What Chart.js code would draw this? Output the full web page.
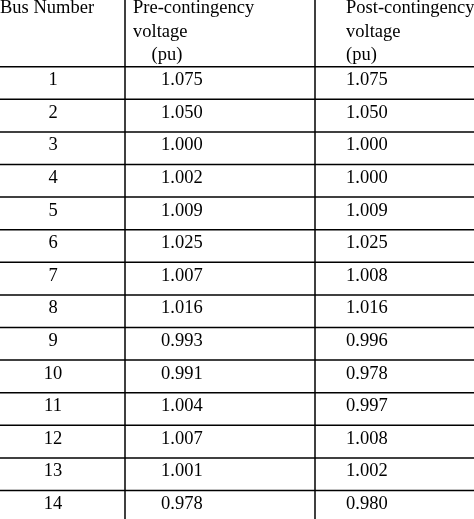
<!DOCTYPE html>
<html><head><meta charset="utf-8">
<script src="https://cdn.jsdelivr.net/npm/chart.js@4"></script>
<style>html,body{margin:0;padding:0;background:#fff}#wrap{width:474px;height:519px}</style>
</head><body><div id="wrap"><canvas id="c"></canvas></div>
<script>
const busNumbers = [1,2,3,4,5,6,7,8,9,10,11,12,13,14];
const preVoltage = ["1.075","1.050","1.000","1.002","1.009","1.025","1.007","1.016","0.993","0.991","1.004","1.007","1.001","0.978"];
const postVoltage = ["1.075","1.050","1.000","1.000","1.009","1.025","1.008","1.016","0.996","0.978","0.997","1.008","1.002","0.980"];
const headerBus = ["Bus Number"];
const headerPre = ["Pre-contingency","voltage","    (pu)"];
const headerPost = ["Post-contingency","voltage","(pu)"];

const tablePlugin = {
  id:'table',
  afterDraw(chart){
    const {ctx, scales:{x,y}} = chart;
    ctx.save();
    ctx.strokeStyle='#000'; ctx.lineWidth=1.5;
    const top=y.getPixelForValue(-1.6), bot=y.getPixelForValue(14.5);
    [125,315].forEach(v=>{const px=x.getPixelForValue(v);ctx.beginPath();ctx.moveTo(px,top);ctx.lineTo(px,bot);ctx.stroke();});
    for(let i=0;i<busNumbers.length;i++){
      const py=y.getPixelForValue(busNumbers[i]-0.5);
      ctx.beginPath();ctx.moveTo(x.getPixelForValue(0),py);ctx.lineTo(x.getPixelForValue(474),py);ctx.stroke();
    }
    ctx.fillStyle='#000';
    ctx.font='18.5px "Liberation Serif", "Times New Roman", serif';
    ctx.textBaseline='middle';
    ctx.textAlign='left';
    ctx.fillText(headerBus[0], x.getPixelForValue(0), y.getPixelForValue(-1.3));
    headerPre.forEach((t,i)=>ctx.fillText(t, x.getPixelForValue(133), y.getPixelForValue(-1.3+i*0.73)));
    headerPost.forEach((t,i)=>ctx.fillText(t, x.getPixelForValue(346), y.getPixelForValue(-1.3+i*0.73)));
    busNumbers.forEach((b,i)=>{
      const py=y.getPixelForValue(b-0.08);
      ctx.textAlign='center';
      ctx.fillText(String(b), x.getPixelForValue(53), py);
      ctx.textAlign='left';
      ctx.fillText(preVoltage[i], x.getPixelForValue(161), py);
      ctx.fillText(postVoltage[i], x.getPixelForValue(346), py);
    });
    ctx.restore();
  }
};

new Chart(document.getElementById('c'),{
  type:'scatter',
  data:{datasets:[{data:busNumbers.map(b=>({x:0,y:b})),pointRadius:0}]},
  options:{
    responsive:true, maintainAspectRatio:false, animation:false,
    layout:{padding:0},
    plugins:{legend:{display:false},tooltip:{enabled:false}},
    scales:{
      x:{type:'linear',min:0,max:474,display:false},
      y:{type:'linear',min:-1.546,max:14.374,reverse:true,display:false}
    }
  },
  plugins:[tablePlugin]
});
</script></body></html>
